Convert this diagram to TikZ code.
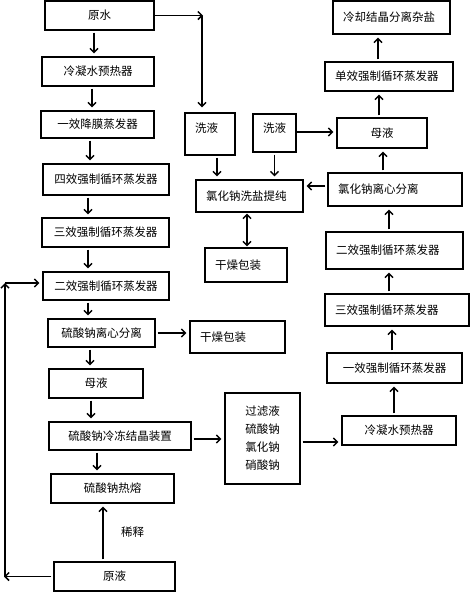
\documentclass[tikz,border=0pt]{standalone}
\usepackage{fontspec}
\setmainfont{Noto Sans CJK SC}
\usetikzlibrary{arrows.meta,calc}
\newcommand\myfs{\fontsize{11.5}{14}\selectfont}
\begin{document}
\begin{tikzpicture}[x=1pt,y=-1pt,
  box/.style={draw, line width=1.2pt, inner sep=0pt, align=center, font=\myfs},
  lbox/.style={box, align=left, inner xsep=10pt},
  arr/.style={line width=1.5pt, -{Straight Barb[length=4pt,width=8pt]}, shorten <=2pt, shorten >=3pt},
  darr/.style={line width=1.5pt, {Straight Barb[length=4pt,width=8pt]}-{Straight Barb[length=4pt,width=8pt]}, shorten <=1pt, shorten >=1pt},
  plain/.style={line width=1.5pt}
]
\useasboundingbox (0,0) rectangle (474,592);
% left column
\node[box, minimum width=109pt, minimum height=29pt] (ys) at (99.5,15.5) {原水};
\node[box, minimum width=112pt, minimum height=29pt] (ln1) at (98,71.5) {冷凝水预热器};
\node[box, minimum width=113pt, minimum height=27pt] (yx1) at (97.5,124.5) {一效降膜蒸发器};
\node[box, minimum width=126pt, minimum height=31pt] (sx) at (106,179.5) {四效强制循环蒸发器};
\node[box, minimum width=127pt, minimum height=29pt] (sanL) at (105.5,232.5) {三效强制循环蒸发器};
\node[box, minimum width=126pt, minimum height=28pt] (erL) at (106,286) {二效强制循环蒸发器};
\node[box, minimum width=107pt, minimum height=28pt] (lx) at (101.5,333) {硫酸钠离心分离};
\node[lbox, text width=75pt, minimum height=32pt] (gz2) at (237.5,337) {干燥包装};
\node[box, minimum width=94pt, minimum height=29pt] (my1) at (96,383.5) {母液};
\node[box, minimum width=142pt, minimum height=28pt] (ld) at (120,436) {硫酸钠冷冻结晶装置};
\node[box, minimum width=75pt, minimum height=91pt, font=\fontsize{11.5}{18}\selectfont] (big) at (262.5,438.5) {过滤液\\硫酸钠\\氯化钠\\硝酸钠};
\node[box, minimum width=123pt, minimum height=29pt] (rr) at (112.5,488.5) {硫酸钠热熔};
\node[box, minimum width=121pt, minimum height=29pt] (yy) at (114.5,576.5) {原液};
% right part
\node[lbox, text width=30pt, text height=10pt, text depth=14pt, inner ysep=9pt] (xy1) at (210,134) {洗液};
\node[lbox, text width=23pt, text height=10pt, text depth=12pt, inner ysep=8pt] (xy2) at (274.5,133) {洗液};
\node[box, minimum width=90pt, minimum height=30pt] (my2) at (382,133) {母液};
\node[lbox, text width=87pt, minimum height=32pt] (nacl) at (249.5,196) {氯化钠洗盐提纯};
\node[lbox, text width=62pt, minimum height=34pt] (gz1) at (246,265) {干燥包装};
\node[lbox, text width=114pt, minimum height=33pt] (nlx) at (395,189.5) {氯化钠离心分离};
\node[lbox, text width=108pt, minimum height=29pt] (dx) at (389,76.5) {单效强制循环蒸发器};
\node[lbox, text width=97pt, minimum height=33pt] (lj) at (391.5,17.5) {冷却结晶分离杂盐};
\node[lbox, text width=117pt, minimum height=37pt] (erR) at (394.5,250.5) {二效强制循环蒸发器};
\node[lbox, text width=124pt, minimum height=32pt] (sanR) at (397,310) {三效强制循环蒸发器};
\node[box, minimum width=135pt, minimum height=30pt] (yxR) at (394.5,368) {一效强制循环蒸发器};
\node[box, minimum width=114pt, minimum height=29pt] (lnR) at (399,430.5) {冷凝水预热器};
% coordinates
\coordinate (c0) at (202,15.5);
\coordinate (c1) at (4,576.5);
\coordinate (c2) at (5,283);
% left column arrows
\draw[arr] ([xshift=-5.5pt]ys.south) -- ([xshift=-5.5pt]ys.south |- ln1.north);
\draw[arr] ([xshift=-6pt]ln1.south) -- ([xshift=-6pt]ln1.south |- yx1.north);
\draw[arr] ([xshift=-7.5pt]yx1.south) -- ([xshift=-7.5pt]yx1.south |- sx.north);
\draw[arr] ([xshift=-18pt]sx.south) -- ([xshift=-18pt]sx.south |- sanL.north);
\draw[arr] ([xshift=-17.5pt]sanL.south) -- ([xshift=-17.5pt]sanL.south |- erL.north);
\draw[arr] ([xshift=-18pt]erL.south) -- ([xshift=-18pt]erL.south |- lx.north);
\draw[arr] (lx.east) -- (lx.east -| gz2.west);
\draw[arr] ([xshift=-11.5pt]lx.south) -- ([xshift=-11.5pt]lx.south |- my1.north);
\draw[arr] ([xshift=-5pt]my1.south) -- ([xshift=-5pt]my1.south |- ld.north);
\draw[arr] ([yshift=-3pt]ld.east) -- ([yshift=-3pt]ld.east -| big.west);
\draw[arr] ([xshift=-23pt]ld.south) -- ([xshift=-23pt]ld.south |- rr.north);
\draw[arr] ([xshift=-11.5pt]yy.north) -- node[right=14pt, font=\myfs] {稀释} ([xshift=-11.5pt]yy.north |- rr.south);
% left loop
\draw[arr, shorten >=0pt] (yy.west) -- (c1);
\draw[arr, shorten <=0pt, shorten >=0pt] (5,576.5) -- (c2);
\draw[arr, shorten <=0pt] (c2) -- (c2 -| erL.west);
% top right flow
\draw[arr, shorten <=0pt, shorten >=-1pt] (ys.east) -- (c0);
\draw[arr, shorten <=0pt, shorten >=5pt] (c0) -- (c0 |- xy1.north);
\draw[arr] ([xshift=7pt]xy1.south) -- ([xshift=7pt]xy1.south |- nacl.north);
\draw[arr] (xy2.south) -- (xy2.south |- nacl.north);
\draw[arr, shorten <=0pt] ([yshift=1pt]xy2.east) -- ([yshift=1pt]xy2.east -| my2.west);
\draw[darr] ([xshift=-2.5pt]nacl.south) -- ([xshift=-2.5pt]nacl.south |- gz1.north);
\draw[arr] ([yshift=3.5pt]nlx.west) -- ([yshift=3.5pt]nlx.west -| nacl.east);
% right column arrows
\draw[arr] ([yshift=-3.5pt]big.east) -- ([yshift=-3.5pt]big.east -| lnR.west);
\draw[arr] ([xshift=-5pt]lnR.north) -- ([xshift=-5pt]lnR.north |- yxR.south);
\draw[arr] ([xshift=-2.5pt]yxR.north) -- ([xshift=-2.5pt]yxR.north |- sanR.south);
\draw[arr] ([xshift=-8pt]sanR.north) -- ([xshift=-8pt]sanR.north |- erR.south);
\draw[arr] ([xshift=-5.5pt]erR.north) -- ([xshift=-5.5pt]erR.north |- nlx.south);
\draw[arr] ([xshift=-12pt]nlx.north) -- ([xshift=-12pt]nlx.north |- my2.south);
\draw[arr] ([xshift=-3pt]my2.north) -- ([xshift=-3pt]my2.north |- dx.south);
\draw[arr] ([xshift=-11pt]dx.north) -- ([xshift=-11pt]dx.north |- lj.south);
\end{tikzpicture}
\end{document}
